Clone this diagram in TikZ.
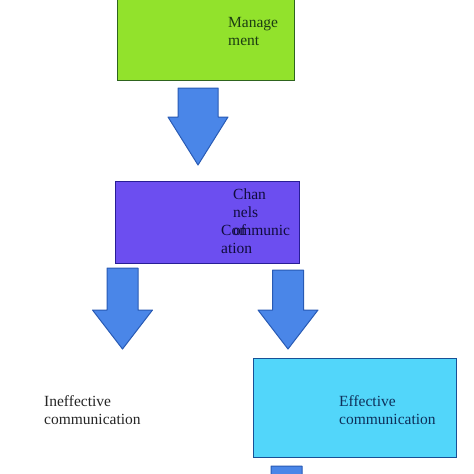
\documentclass[tikz,border=0pt]{standalone}
\usepackage{fontspec}
\setmainfont{Liberation Serif}
\definecolor{mgreen}{RGB}{146,226,44}
\definecolor{mgreenline}{RGB}{46,100,30}
\definecolor{cpurple}{RGB}{108,78,240}
\definecolor{cpurpleline}{RGB}{40,30,150}
\definecolor{ecyan}{RGB}{82,214,250}
\definecolor{ecyanline}{RGB}{24,80,150}
\definecolor{arrowfill}{RGB}{74,134,232}
\definecolor{arrowline}{RGB}{40,90,180}
\begin{document}
\begin{tikzpicture}[x=1pt,y=-1pt,
box/.style={draw, line width=1.4pt, anchor=north west, inner sep=0pt},
boxtext/.style={font=\fontsize{15.5}{18}\selectfont, align=left, anchor=base west, inner sep=0pt},
blockline/.style={draw=arrowline, fill=arrowfill, line width=1pt, line join=round},
pics/blockdown/.style n args={4}{code={
\path[blockline] (-#1,0) -- (#1,0) -- (#1,#3) -- (#2,#3) -- (0,#3+#4)
  -- (-#2,#3) -- (-#1,#3) -- cycle;}}]
\clip (0,0) rectangle (474,474);
\fill[white] (0,0) rectangle (474,474);

\node[box, draw=mgreenline, fill=mgreen, minimum width=177pt, minimum height=90pt] (mgmt) at (117,-10) {};
\node[boxtext, text=mgreenline!60!black] (mgmttext) at (228,45) {Manage\\ment};

\node[box, draw=cpurpleline, fill=cpurple, minimum width=184pt, minimum height=82pt] (chan) at (115,181) {};
\node[boxtext, text=cpurpleline!40!black] (chantext) at (233,235) {Chan\\nels\\of};
\node[boxtext, text=cpurpleline!40!black] (commtext) at (221,253) {Communic\\ation};

\node[boxtext, text=black!85] (ineff) at (44,424) {Ineffective\\communication};

\node[box, draw=ecyanline, fill=ecyan, minimum width=203pt, minimum height=99pt] (eff) at (253,358) {};
\node[boxtext, text=ecyanline!60!black] (efftext) at (339,424) {Effective\\communication};

\pic at (198,88) {blockdown={20}{30}{29}{48}};
\pic at (122.5,268) {blockdown={15.5}{30}{42}{39}};
\pic at (288,270) {blockdown={15.5}{30}{40}{39}};
\pic at (286.5,466) {blockdown={15.5}{30}{40}{39}};
\end{tikzpicture}
\end{document}
